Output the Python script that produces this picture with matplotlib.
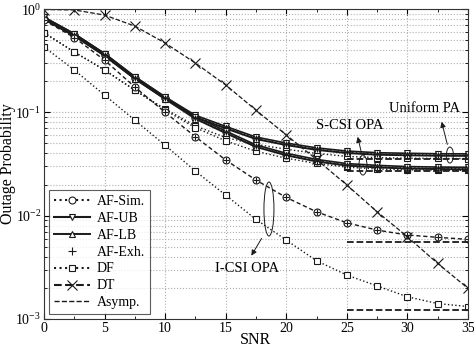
import numpy as np
import matplotlib
matplotlib.use('Agg')
import matplotlib.pyplot as plt
from matplotlib.patches import Ellipse
from matplotlib.lines import Line2D

plt.rcParams['font.family'] = ['Liberation Serif', 'DejaVu Serif']
plt.rcParams['mathtext.fontset'] = 'stix'

snr = np.arange(0, 35.1, 2.5)

# uniform PA group
uni_af = [0.81, 0.56, 0.36, 0.215, 0.137, 0.091, 0.071, 0.056, 0.049, 0.044, 0.041, 0.0395, 0.039, 0.0386, 0.0385]
uni_df = [0.59, 0.384, 0.257, 0.164, 0.108, 0.074, 0.057, 0.049, 0.044, 0.040, 0.0375, 0.0365, 0.036, 0.0358, 0.0357]
uni_asym = 0.0355
# S-CSI OPA group
scsi_af = [0.81, 0.56, 0.36, 0.215, 0.137, 0.088, 0.064, 0.047, 0.039, 0.034, 0.031, 0.0298, 0.029, 0.0287, 0.0285]
scsi_df = [0.59, 0.384, 0.257, 0.164, 0.105, 0.071, 0.053, 0.042, 0.036, 0.032, 0.0295, 0.0283, 0.0278, 0.0276, 0.0275]
scsi_asym = 0.0272
# I-CSI OPA group
icsi_af = [0.78, 0.53, 0.32, 0.176, 0.100, 0.058, 0.0346, 0.0221, 0.0150, 0.0109, 0.00853, 0.00725, 0.0065, 0.00617, 0.0059]
icsi_df = [0.43, 0.257, 0.147, 0.084, 0.048, 0.027, 0.0158, 0.0092, 0.0058, 0.00366, 0.00266, 0.00209, 0.00164, 0.00141, 0.00132]
icsi_af_asym = 0.0056
icsi_df_asym = 0.00122
# direct transmission
dt = [0.99, 0.98, 0.875, 0.684, 0.469, 0.30, 0.184, 0.105, 0.0604, 0.035, 0.0198, 0.0109, 0.00625, 0.00345, 0.00198]
asym_x = [25, 35]

c = '#1a1a1a'
mk = dict(markerfacecolor='white', markeredgecolor=c, markersize=5, markeredgewidth=0.8)

fig = plt.figure(figsize=(4.74, 3.51), dpi=100)
ax = fig.add_axes([0.0928, 0.0912, 0.8945, 0.883])

for af, df in [(uni_af, uni_df), (scsi_af, scsi_df)]:
    ub = np.array(af) * 1.03
    lb = np.array(af) * 0.985
    ax.plot(snr, df, ':', color=c, lw=1.0, marker='s', **mk)
    ax.plot(snr, af, ':', color=c, lw=1.0, marker='o', **mk)
    ax.plot(snr, ub, '-', color=c, lw=1.2, marker='v', **mk)
    ax.plot(snr, lb, '-', color=c, lw=1.4, marker='^', **mk)
    ax.plot(snr, af, '+', color=c, markersize=5, markeredgewidth=0.8)

ax.plot(snr, icsi_df, ':', color=c, lw=1.0, marker='s', **mk)
ax.plot(snr, icsi_af, color=c, lw=1.0, ls=(0, (3, 2)), marker='o', **mk)
ax.plot(snr, icsi_af, '+', color=c, markersize=5, markeredgewidth=0.8)
ax.plot(snr, dt, '--', color=c, lw=0.9, marker='x', markersize=7, markeredgewidth=0.8)

for lvl in [uni_asym, scsi_asym, icsi_af_asym, icsi_df_asym]:
    ax.plot(asym_x, [lvl, lvl], '--', color=c, lw=1.3)

ax.set_yscale('log')
ax.set_xlim(0, 35)
ax.set_ylim(1e-3, 1)
ax.set_xticks(range(0, 36, 5))
ax.set_xticks(np.arange(0, 35.1, 2.5), minor=True)
ax.tick_params(which='both', direction='in', top=True, right=True, labelsize=10)
ax.tick_params(which='major', length=4, pad=2)
ax.tick_params(which='minor', length=2)
ax.grid(True, which='major', ls=':', color='#b0b0b0', lw=0.8)
ax.grid(True, which='minor', axis='y', ls=':', color='#b0b0b0', lw=0.8)
for s in ax.spines.values():
    s.set_color('#333333')
ax.set_xlabel('SNR', fontsize=11.5)
ax.set_ylabel('Outage Probability', fontsize=11.5)
ax.xaxis.set_label_coords(0.5, -0.042)
ax.yaxis.set_label_coords(-0.066, 0.5)

handles = [
    Line2D([], [], ls=':', color=c, marker='o', **mk),
    Line2D([], [], ls='-', color=c, marker='v', **mk),
    Line2D([], [], ls='-', color=c, lw=1.4, marker='^', **mk),
    Line2D([], [], ls='none', color=c, marker='+', markersize=6, markeredgewidth=0.8),
    Line2D([], [], ls=':', color=c, marker='s', **mk),
    Line2D([], [], ls='--', color=c, marker='x', markersize=7, markeredgewidth=0.8),
    Line2D([], [], ls='--', color=c, lw=1.0),
]
labels = ['AF-Sim.', 'AF-UB', 'AF-LB', 'AF-Exh.', 'DF', 'DT', 'Asymp.']
leg = ax.legend(handles, labels, loc='lower left', fontsize=10, frameon=True, fancybox=False,
                edgecolor='#333333', handlelength=2.6, handletextpad=0.5, borderaxespad=0.35,
                labelspacing=0.28, borderpad=0.35)
leg.get_frame().set_linewidth(0.8)

# annotations: ellipses + arrows
fig.canvas.draw()
to_ax = lambda x, y: ax.transAxes.inverted().transform(ax.transData.transform((x, y)))
for (ex, ey, w, h) in [(33.51, 0.0386, 7, 16), (26.33, 0.0309, 8, 20), (18.57, 0.0116, 10, 54)]:
    cx, cy = to_ax(ex, ey)
    ax.add_patch(Ellipse((cx, cy), w / 424, h / 310, transform=ax.transAxes,
                         fill=False, ec=c, lw=0.7, zorder=5))

arr = dict(arrowstyle='-|>', color=c, lw=0.7, mutation_scale=8)
ax.annotate('', xy=(32.77, 0.0861), xytext=(33.35, 0.0461), arrowprops=arr)
ax.annotate('', xy=(25.84, 0.0616), xytext=(26.25, 0.0386), arrowprops=arr)
ax.annotate('', xy=(17.0, 0.00389), xytext=(18.08, 0.00635), arrowprops=arr)
ax.text(31.45, 0.110, 'Uniform PA', ha='center', va='center', fontsize=10.5)
ax.text(25.26, 0.0753, 'S-CSI OPA', ha='center', va='center', fontsize=10.5)
ax.text(16.76, 0.00311, 'I-CSI OPA', ha='center', va='center', fontsize=10.5)

fig.savefig('out.png', dpi=100)
